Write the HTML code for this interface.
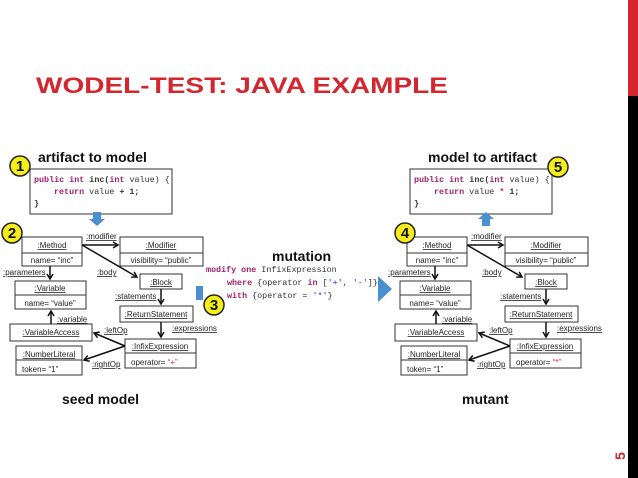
<!DOCTYPE html>
<html><head><meta charset="utf-8"><style>
html,body{margin:0;padding:0;background:#fff;}
svg{display:block;}
.t{font-family:"Liberation Sans",sans-serif;font-size:8px;fill:#222;}
.u{text-decoration:underline;}
.b{fill:#fff;stroke:#333;stroke-width:1;}
.c{font-family:"Liberation Mono",monospace;font-size:8.4px;font-weight:bold;}
.k{fill:#a0206a;}
.n{fill:#333;}
.s{fill:#2a2acf;}
.h{font-family:"Liberation Sans",sans-serif;font-weight:bold;font-size:14px;fill:#111;}
.ci{fill:#f5ee1a;stroke:#222;stroke-width:1.5;}
.cn{font-family:"Liberation Sans",sans-serif;font-weight:bold;font-size:15px;fill:#111;text-anchor:middle;}
.l{stroke:#111;stroke-width:1.5;fill:none;marker-end:url(#a);}
</style></head><body>
<svg width="638" height="478" viewBox="0 0 638 478" xmlns="http://www.w3.org/2000/svg">
<defs><marker id="a" markerWidth="8" markerHeight="8" refX="6" refY="4" orient="auto" markerUnits="userSpaceOnUse"><path d="M1,1 L6,4 L1,7" fill="none" stroke="#111" stroke-width="1.5"/></marker></defs>
<rect x="628" y="0" width="10" height="96" fill="#d3262e"/>
<rect x="628" y="96" width="10" height="382" fill="#000"/>
<text x="36" y="93" font-family="Liberation Sans,sans-serif" font-weight="bold" font-size="22" fill="#d3262e" textLength="412" lengthAdjust="spacingAndGlyphs">WODEL-TEST: JAVA EXAMPLE</text>
<text transform="translate(625,456) rotate(-90)" font-family="Liberation Sans,sans-serif" font-weight="bold" font-size="14" fill="#d3262e" text-anchor="middle">5</text>

<text class="h" x="38" y="162">artifact to model</text>
<text class="h" x="428" y="162">model to artifact</text>
<text class="h" x="62" y="404">seed model</text>
<text class="h" x="462" y="404">mutant</text>
<text class="h" x="272" y="261" font-size="15">mutation</text>

<text class="c" x="206" y="272"><tspan class="k">modify one</tspan><tspan class="n" font-weight="normal"> InfixExpression</tspan></text>
<text class="c" x="227" y="285"><tspan class="k">where</tspan><tspan class="n" font-weight="normal"> {operator </tspan><tspan class="k">in</tspan><tspan class="n" font-weight="normal"> [</tspan><tspan class="s" font-weight="normal">'+'</tspan><tspan class="n" font-weight="normal">, </tspan><tspan class="s" font-weight="normal">'-'</tspan><tspan class="n" font-weight="normal">]}</tspan></text>
<text class="c" x="227" y="298"><tspan class="k">with</tspan><tspan class="n" font-weight="normal"> {operator = </tspan><tspan class="s" font-weight="normal">'*'</tspan><tspan class="n" font-weight="normal">}</tspan></text>
<rect x="196" y="286" width="7" height="14" fill="#4a8fd0"/>
<path d="M378,276 L392,289 L378,302 Z" fill="#4a8fd0"/>

<g>
<rect class="b" x="30" y="169" width="142" height="45"/>
<text class="c" x="34" y="182"><tspan class="k">public int</tspan><tspan class="n"> inc(</tspan><tspan class="k">int</tspan><tspan class="n" font-weight="normal"> value) {</tspan></text>
<text class="c" x="54" y="194"><tspan class="k">return</tspan><tspan class="n" font-weight="normal"> value </tspan><tspan class="n">+ 1;</tspan></text>
<text class="c n" x="34" y="206" font-weight="normal">}</text>
<path d="M93,212 h8 v7 h4 l-8,7 l-8,-7 h4 z" fill="#4a8fd0"/>
</g>
<g>
<rect class="b" x="410" y="169" width="142" height="45"/>
<text class="c" x="414" y="182"><tspan class="k">public int</tspan><tspan class="n"> inc(</tspan><tspan class="k">int</tspan><tspan class="n" font-weight="normal"> value) {</tspan></text>
<text class="c" x="434" y="194"><tspan class="k">return</tspan><tspan class="n" font-weight="normal"> value </tspan><tspan fill="#d3262e">*</tspan><tspan class="n"> 1;</tspan></text>
<text class="c n" x="414" y="206" font-weight="normal">}</text>
<path d="M482,226 h8 v-7 h4 l-8,-7 l-8,7 h4 z" fill="#4a8fd0"/>
</g>

<g id="m1">
<rect class="b" x="22" y="237" width="60" height="29"/><line x1="22" y1="253" x2="82" y2="253" stroke="#333"/>
<text class="t u" x="52" y="248" text-anchor="middle">:Method</text><text class="t" x="52" y="263" text-anchor="middle">name= “inc”</text>
<rect class="b" x="120" y="237" width="83" height="29"/><line x1="120" y1="253" x2="203" y2="253" stroke="#333"/>
<text class="t u" x="161" y="248" text-anchor="middle">:Modifier</text><text class="t" x="161" y="263" text-anchor="middle">visibility= “public”</text>
<rect class="b" x="15" y="281" width="71" height="28"/><line x1="15" y1="295" x2="86" y2="295" stroke="#333"/>
<text class="t u" x="50" y="291" text-anchor="middle">:Variable</text><text class="t" x="50" y="306" text-anchor="middle">name= “value”</text>
<rect class="b" x="140" y="274" width="42" height="15"/>
<text class="t u" x="161" y="285" text-anchor="middle">:Block</text>
<rect class="b" x="120" y="306" width="73" height="16"/>
<text class="t u" x="156" y="317" text-anchor="middle">:ReturnStatement</text>
<rect class="b" x="10" y="324" width="82" height="17"/>
<text class="t u" x="51" y="335" text-anchor="middle">:VariableAccess</text>
<rect class="b" x="125" y="339" width="71" height="29"/><line x1="125" y1="353" x2="196" y2="353" stroke="#333"/>
<text class="t u" x="160" y="349" text-anchor="middle">:InfixExpression</text>
<rect class="b" x="16" y="346" width="66" height="29"/><line x1="16" y1="360" x2="82" y2="360" stroke="#333"/>
<text class="t u" x="49" y="357" text-anchor="middle">:NumberLiteral</text><text class="t" x="22" y="372">token= “1”</text>
<path class="l" d="M82,245 L118,245"/>
<path class="l" d="M82,245 L137,277"/>
<path class="l" d="M50,266 L50,279"/>
<path class="l" d="M161,289 L161,304"/>
<path class="l" d="M161,322 L161,337"/>
<path class="l" d="M51,324 L51,311"/>
<path class="l" d="M125,346 L94,333"/>
<path class="l" d="M125,346 L84,360"/>
<text class="t u" x="86" y="239">:modifier</text>
<text class="t u" x="3" y="275">:parameters</text>
<text class="t u" x="97" y="275">:body</text>
<text class="t u" x="115" y="299">:statements</text>
<text class="t u" x="57" y="322">:variable</text>
<text class="t u" x="104" y="333">:leftOp</text>
<text class="t u" x="172" y="331">:expressions</text>
<text class="t u" x="92" y="367">:rightOp</text>
</g>
<text class="t" x="131" y="365">operator= <tspan fill="#d3262e">“+”</tspan></text>
<use href="#m1" transform="translate(385,0)"/>
<text class="t" x="516" y="365">operator= <tspan fill="#d3262e">“*”</tspan></text>

<circle class="ci" cx="20" cy="166" r="10"/><text class="cn" x="20" y="171">1</text>
<circle class="ci" cx="12" cy="233" r="10"/><text class="cn" x="12" y="238">2</text>
<circle class="ci" cx="214" cy="305" r="10"/><text class="cn" x="214" y="310">3</text>
<circle class="ci" cx="405" cy="233" r="10"/><text class="cn" x="405" y="238">4</text>
<circle class="ci" cx="558" cy="167" r="10"/><text class="cn" x="558" y="172">5</text>
</svg>
</body></html>
